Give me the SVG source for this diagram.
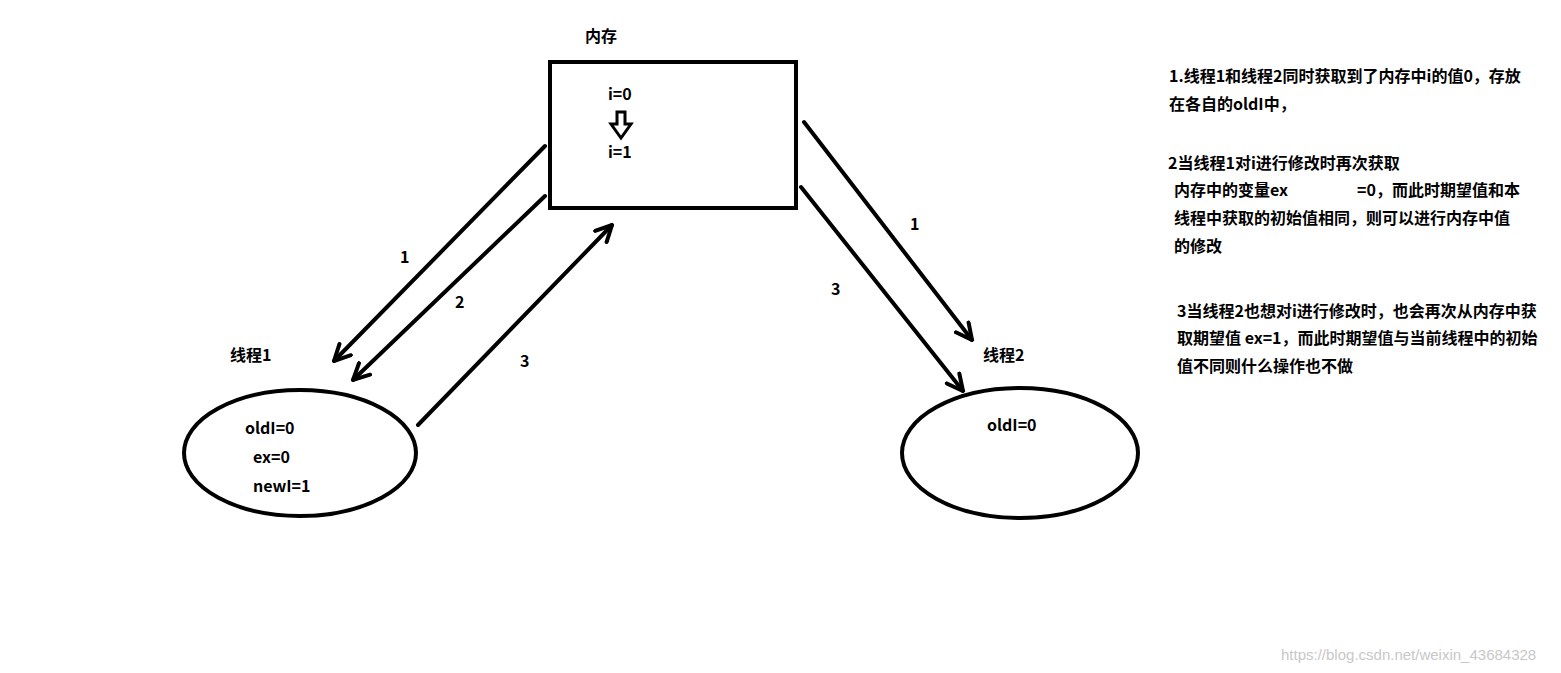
<svg xmlns="http://www.w3.org/2000/svg" width="1561" height="673" viewBox="0 0 1561 673">
<style>
text{font-family:"Noto Sans CJK SC","Liberation Sans",sans-serif;font-weight:bold;font-size:16px;fill:#000}
.ln{stroke:#000;stroke-width:4;fill:none;stroke-linecap:round}
.wm{font-family:"Liberation Sans",sans-serif;font-weight:normal;fill:#c8c8c8;font-size:15px}
</style>
<defs>
<marker id="v" viewBox="0 0 20 20" refX="18" refY="10" markerWidth="20" markerHeight="20" markerUnits="userSpaceOnUse" orient="auto">
<path d="M2,2 L18,10 L2,18" stroke="#000" stroke-width="4" fill="none" stroke-linecap="round"/>
</marker>
</defs>
<rect width="1561" height="673" fill="#fff"/>
<g id="memory">
<text x="585" y="42">内存</text>
<rect x="550" y="62" width="246" height="146" class="ln" stroke-linecap="butt"/>
<text x="608" y="100">i=0</text>
<path d="M617,112 h8 v12 h6 l-10,14 l-10,-14 h6 z" stroke="#000" stroke-width="3" fill="#fff"/>
<text x="608" y="158">i=1</text>
</g>
<g id="thread1">
<text x="230" y="361">线程1</text>
<ellipse cx="300" cy="453" rx="116" ry="63" class="ln"/>
<text x="245" y="434">oldI=0</text>
<text x="253" y="463">ex=0</text>
<text x="253" y="492">newI=1</text>
</g>
<g id="thread2">
<text x="983" y="361">线程2</text>
<ellipse cx="1020" cy="453" rx="118" ry="65" class="ln"/>
<text x="987" y="431">oldI=0</text>
</g>
<g id="connectors">
<line x1="545" y1="146" x2="334" y2="361" class="ln" marker-end="url(#v)"/>
<line x1="545" y1="196" x2="353" y2="380" class="ln" marker-end="url(#v)"/>
<line x1="418" y1="425" x2="612" y2="225" class="ln" marker-end="url(#v)"/>
<line x1="804" y1="122" x2="972" y2="340" class="ln" marker-end="url(#v)"/>
<line x1="801" y1="187" x2="963" y2="391" class="ln" marker-end="url(#v)"/>
<text x="400" y="263">1</text>
<text x="455" y="308">2</text>
<text x="520" y="367">3</text>
<text x="910" y="230">1</text>
<text x="831" y="295">3</text>
</g>
<g id="notes">
<text x="1169" y="82">1.线程1和线程2同时获取到了内存中i的值0，存放</text>
<text x="1169" y="110">在各自的oldI中，</text>
<text x="1168" y="169">2当线程1对i进行修改时再次获取</text>
<text x="1174" y="196">内存中的变量ex</text>
<text x="1357" y="196">=0，而此时期望值和本</text>
<text x="1174" y="224">线程中获取的初始值相同，则可以进行内存中值</text>
<text x="1174" y="252">的修改</text>
<text x="1177" y="317">3当线程2也想对i进行修改时，也会再次从内存中获</text>
<text x="1177" y="344">取期望值 ex=1，而此时期望值与当前线程中的初始</text>
<text x="1177" y="372">值不同则什么操作也不做</text>
</g>
<text class="wm" x="1281" y="660">https://blog.csdn.net/weixin_43684328</text>
</svg>
